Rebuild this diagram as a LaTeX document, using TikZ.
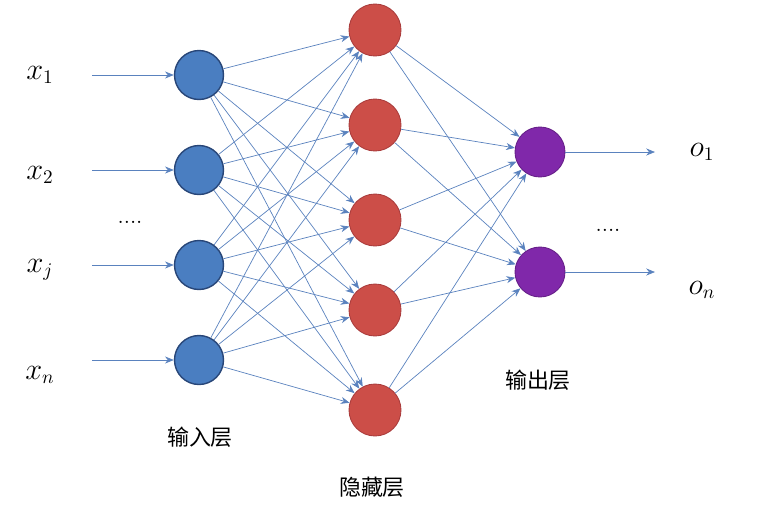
\documentclass[tikz,border=0pt]{standalone}
\usepackage{fontspec}
\newfontfamily\cjk{Noto Sans CJK SC}
\usetikzlibrary{arrows.meta}
\definecolor{inb}{RGB}{74,126,193}
\definecolor{inbd}{RGB}{40,70,120}
\definecolor{hid}{RGB}{204,78,72}
\definecolor{hidd}{RGB}{170,60,60}
\definecolor{outp}{RGB}{128,40,170}
\definecolor{lnk}{RGB}{90,130,190}
\begin{document}
\begin{tikzpicture}[x=0.02cm,y=-0.02cm,
 inn/.style={circle,minimum size=0.98cm,inner sep=0,fill=inb,draw=inbd,line width=0.8pt},
 hn/.style={circle,minimum size=1.04cm,inner sep=0,fill=hid,draw=hidd,line width=0.5pt},
 on/.style={circle,minimum size=1.0cm,inner sep=0,fill=outp,draw=outp!80!black,line width=0.5pt},
 lk/.style={draw=lnk,line width=0.4pt,-{Stealth[length=5pt,width=4pt]}},
 lab/.style={font=\cjk\fontsize{12.5}{14}\selectfont},
 ml/.style={font=\fontsize{16}{18}\selectfont},
 dt/.style={font=\fontsize{13}{15}\selectfont}]
\useasboundingbox (0,0) rectangle (757,505);
\foreach \n/\y in {1/75,2/170,3/265,4/360} \node[inn] (i\n) at (199,\y) {};
\foreach \n/\y in {1/30,2/125,3/220,4/310,5/410} \node[hn] (h\n) at (375,\y) {};
\node[on] (o1) at (540,152) {};
\node[on] (o2) at (540,272) {};
\foreach \i in {1,...,4} \foreach \h in {1,...,5} \draw[lk] (i\i) -- (h\h);
\foreach \h in {1,...,5} \foreach \o in {1,2} \draw[lk] (h\h) -- (o\o);
\node[ml] (x1) at (40,75) {$x_1$};
\node[ml] (x2) at (40,175) {$x_2$};
\node[ml] (x3) at (40,270) {$x_j$};
\node[ml] (x4) at (40,375) {$x_n$};
\foreach \n/\y in {1/75,2/170,3/265,4/360} {\coordinate (s\n) at (92,\y); \draw[lk] (s\n) -- (i\n);}
\node[dt] (d1) at (130,222) {....};
\node[ml] (y1) at (702,152) {$o_1$};
\node[ml] (y2) at (702,290) {$o_n$};
\coordinate (e1) at (655,152); \coordinate (e2) at (655,272);
\draw[lk] (o1) -- (e1); \draw[lk] (o2) -- (e2);
\node[dt] (d2) at (608,230) {....};
\node[lab] (l1) at (200,437) {输入层};
\node[lab] (l2) at (372,487) {隐藏层};
\node[lab] (l3) at (538,380) {输出层};
\end{tikzpicture}
\end{document}
